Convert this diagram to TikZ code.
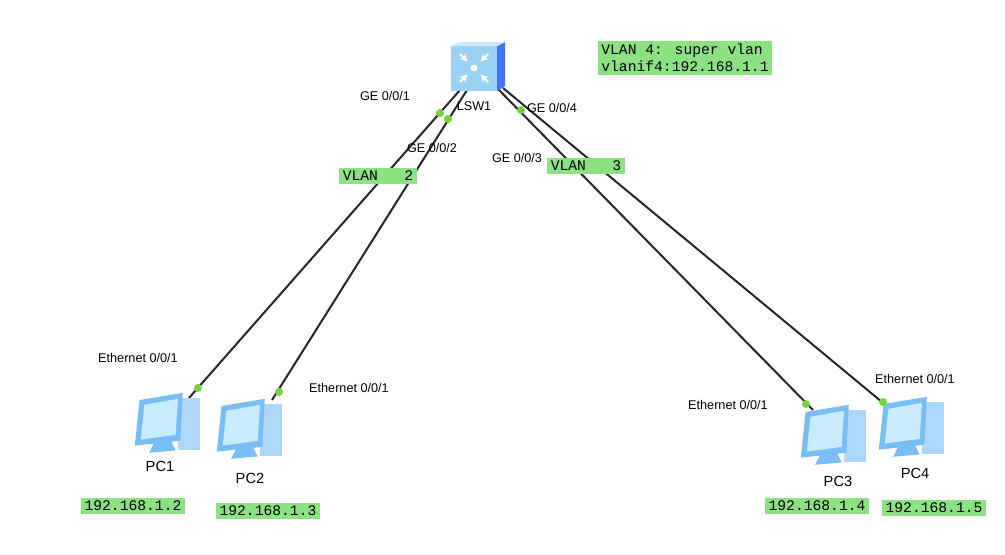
\documentclass[tikz,border=0pt]{standalone}
\usepackage{fontspec}
\setmainfont{Liberation Sans}
\newfontfamily\monof{Liberation Mono}
\usetikzlibrary{calc}
\begin{document}
\begin{tikzpicture}[x=0.75pt,y=-0.75pt,
 lbl/.style={font=\fontsize{9.5}{10}\selectfont,inner sep=0pt},
 gbox/.style={fill={rgb,255:red,140;green,225;blue,130},font=\monof\fontsize{11}{13}\selectfont,inner sep=2.5pt,align=left},
 link/.style={line width=1.5pt,black!85},
 dot/.style={circle,fill={rgb,255:red,120;green,210;blue,60},inner sep=0pt,minimum size=6pt}]
\useasboundingbox (0,0) rectangle (1005,554);
\definecolor{pcb}{RGB}{120,190,245}
\definecolor{pcl}{RGB}{200,235,255}
\definecolor{swb}{RGB}{110,190,240}
% links
\coordinate (s1) at (460,90); \coordinate (s2) at (467,90);
\coordinate (s3) at (497,88); \coordinate (s4) at (503,88);
\coordinate (p1) at (189,398); \coordinate (p2) at (272,400);
\coordinate (p3) at (813,410); \coordinate (p4) at (888,407);
\draw[link] (s1) -- (p1); \draw[link] (s2) -- (p2);
\draw[link] (s3) -- (p3); \draw[link] (s4) -- (p4);
% switch
\node[draw=none,minimum width=46pt,minimum height=38pt,inner sep=0pt] (sw) at (478,68) {};
\fill[swb!70!white] (451,46) rectangle (497,91);
\fill[swb!60!blue] (497,46) -- (505,42) -- (505,86) -- (497,91) -- cycle;
\fill[pcl] (451,46) -- (459,42) -- (505,42) -- (497,46) -- cycle;
\fill[white] (474,68) circle (3.5);
\foreach \a in {45,135,225,315}{\draw[white,line width=1.6pt,-stealth] ($(474,68)+(\a:20)$) -- ($(474,68)+(\a:9)$);}
\node[lbl] (swl) at (474,106) {LSW1};
% PCs
\newcommand\pcicon[2]{%
 \begin{scope}[shift={(#1)},scale=1.2]
 \fill[pcb!60!white] (10,-22) rectangle (28,22);
 \fill[pcb] (-22,-20) -- (14,-26) -- (12,14) -- (-26,18) -- cycle;
 \fill[pcl] (-18,-16) -- (10,-21) -- (8,9) -- (-21,13) -- cycle;
 \fill[pcb] (-10,16) -- (4,14) -- (8,22) -- (-14,24) -- cycle;
 \node[inner sep=0pt,minimum width=40pt,minimum height=36pt] (#2) at (0,0) {};
 \end{scope}}
\pcicon{166,424}{pc1}
\pcicon{248,430}{pc2}
\pcicon{832,436}{pc3}
\pcicon{910,428}{pc4}
\node[lbl,font=\fontsize{11}{12}\selectfont] at (160,466) {PC1};
\node[lbl,font=\fontsize{11}{12}\selectfont] at (250,478) {PC2};
\node[lbl,font=\fontsize{11}{12}\selectfont] at (838,481) {PC3};
\node[lbl,font=\fontsize{11}{12}\selectfont] at (915,473) {PC4};
\node[dot] at (440,113) {}; \node[dot] at (448,119) {};
\node[dot] at (521,110) {}; \node[dot] at (198,388) {};
\node[dot] at (279,392) {}; \node[dot] at (806,404) {};
\node[dot] at (883,402) {};
% port labels
\node[lbl] at (385,96) {GE 0/0/1};
\node[lbl] at (432,148) {GE 0/0/2};
\node[lbl] at (517,158) {GE 0/0/3};
\node[lbl] at (552,108) {GE 0/0/4};
\node[lbl] at (138,358) {Ethernet 0/0/1};
\node[lbl] at (349,388) {Ethernet 0/0/1};
\node[lbl] at (728,405) {Ethernet 0/0/1};
\node[lbl] at (915,379) {Ethernet 0/0/1};
% green boxes
\node[gbox] at (685,58) {VLAN 4: super vlan\\vlanif4:192.168.1.1};
\node[gbox] at (378,176) {VLAN\ \ \ 2};
\node[gbox] at (586,166) {VLAN\ \ \ 3};
\node[gbox] at (133,506) {192.168.1.2};
\node[gbox] at (268,511) {192.168.1.3};
\node[gbox] at (817,506) {192.168.1.4};
\node[gbox] at (934,508) {192.168.1.5};
\end{tikzpicture}
\end{document}
